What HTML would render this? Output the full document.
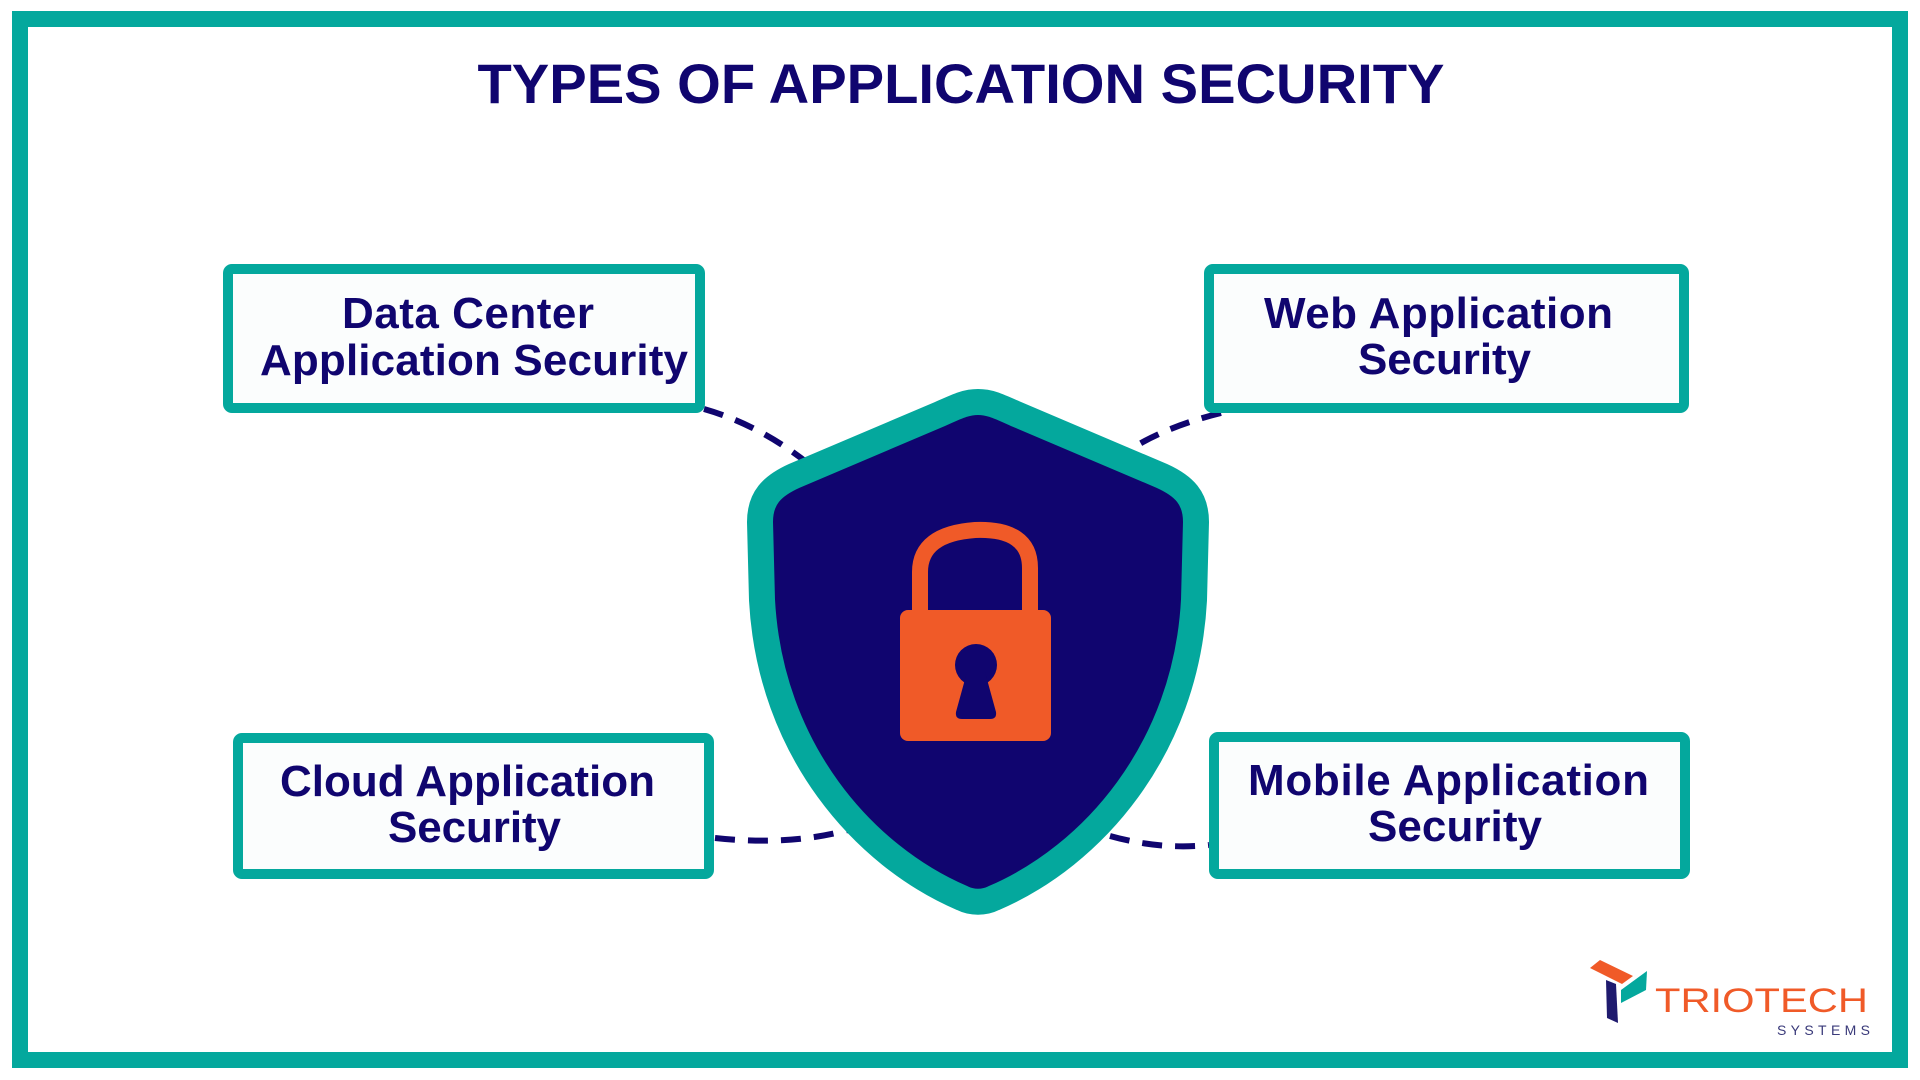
<!DOCTYPE html>
<html><head><meta charset="utf-8"><style>html,body{margin:0;padding:0;background:#fff}svg{display:block}</style></head>
<body>
<svg width="1920" height="1080" viewBox="0 0 1920 1080" xmlns="http://www.w3.org/2000/svg" font-family="'Liberation Sans', sans-serif">
<rect x="0" y="0" width="1920" height="1080" fill="#fff"/>
<rect x="20" y="19" width="1880" height="1041" fill="#fff" stroke="#04A89D" stroke-width="16"/>
<text x="961" y="103" font-size="56" font-weight="bold" fill="#10056F" text-anchor="middle" textLength="967" lengthAdjust="spacingAndGlyphs">TYPES OF APPLICATION SECURITY</text>

<g fill="none" stroke="#10056F" stroke-width="6" stroke-dasharray="20 13">
<path d="M704,409 Q760,425 810,465"/>
<path d="M1221,413 Q1160,428 1122,455"/>
<path d="M715,838 Q790,846 848,830"/>
<path d="M1110,836 Q1160,850 1209,845"/>
</g>

<g fill="#FBFDFD" stroke="#04A89D" stroke-width="10">
<rect x="228" y="269" width="472" height="139" rx="4"/>
<rect x="1209" y="269" width="475" height="139" rx="4"/>
<rect x="238" y="738" width="471" height="136" rx="4"/>
<rect x="1214" y="737" width="471" height="137" rx="4"/>
</g>

<g font-size="44" font-weight="bold" fill="#10056F" lengthAdjust="spacingAndGlyphs">
<text x="342" y="328" textLength="252">Data Center</text>
<text x="260" y="375" textLength="428">Application Security</text>
<text x="1264" y="328" textLength="349">Web Application</text>
<text x="1358" y="374" textLength="173">Security</text>
<text x="280" y="796" textLength="375">Cloud Application</text>
<text x="388" y="842" textLength="173">Security</text>
<text x="1248" y="795" textLength="401">Mobile Application</text>
<text x="1368" y="841" textLength="174">Security</text>
</g>

<path d="M978,402 C966,402 958,406 940,414 L794,476 C772,486 760,498 760,522 L762,600 C770,750 864,856 962,898 C972,903 984,903 994,898 C1092,856 1186,750 1194,600 L1196,522 C1196,498 1184,486 1162,476 L1016,414 C998,406 990,402 978,402 Z" fill="#10056F" stroke="#04A89D" stroke-width="26" stroke-linejoin="round"/>

<path d="M920,615 V572 Q920,534 975,530 Q1030,528 1030,568 V612" fill="none" stroke="#F05A28" stroke-width="16"/>
<rect x="900" y="610" width="151" height="131" rx="8" fill="#F05A28"/>
<circle cx="976" cy="665" r="21" fill="#10056F"/>
<path d="M967,672 L985,672 L996,712 Q997,719 990,719 L962,719 Q955,719 956,712 Z" fill="#10056F"/>

<polygon points="1590,968 1600,960 1633,976 1622,984" fill="#F05A28"/>
<polygon points="1606,980 1616,984 1618,1023 1607,1018" fill="#1F1A6E"/>
<polygon points="1621,990 1647,971 1646,990 1621,1003" fill="#04A89D"/>
<text x="1655" y="1012" font-size="34" fill="#F05A28" textLength="213" lengthAdjust="spacingAndGlyphs">TRIOTECH</text>
<text x="1777" y="1035" font-size="14" fill="#3A3A7A" textLength="93" lengthAdjust="spacing">SYSTEMS</text>
</svg>
</body></html>
